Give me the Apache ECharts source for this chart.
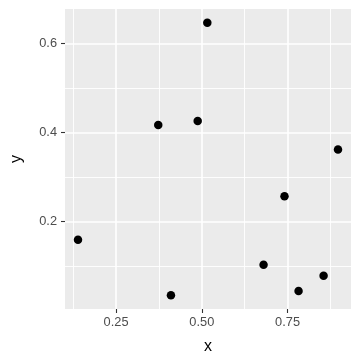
<!DOCTYPE html>
<html><head><meta charset="utf-8">
<script src="https://cdn.jsdelivr.net/npm/echarts@6/dist/echarts.min.js"></script>
<style>html,body{margin:0;padding:0;background:#fff}#c{width:360px;height:360px}</style>
</head><body><div id="c"></div>
<script>
const xValues = [0.139, 0.373, 0.410, 0.488, 0.516, 0.680, 0.741, 0.782, 0.855, 0.897];
const yValues = [0.159, 0.417, 0.034, 0.426, 0.647, 0.103, 0.257, 0.044, 0.078, 0.362];
const xTicks = [0.25, 0.5, 0.75];
const xTickLabels = ['0.25', '0.50', '0.75'];
const xMinor = [0.125, 0.375, 0.625, 0.875];
const yTicks = [0.2, 0.4, 0.6];
const yTickLabels = ['0.2', '0.4', '0.6'];
const yMinor = [0.1, 0.3, 0.5];

function expand(arr) {
  const lo = Math.min(...arr), hi = Math.max(...arr), r = hi - lo;
  return [lo - 0.05 * r, hi + 0.05 * r];
}
const [xmin, xmax] = expand(xValues);
const [ymin, ymax] = expand(yValues);

const FONT = '"Liberation Sans", Arial, sans-serif';
const gridW = { color: '#FFFFFF', width: 1.6 };
const gridMinor = { color: '#FFFFFF', width: 0.9 };

function lbl(ticks, labels) {
  return v => { const i = ticks.findIndex(t => Math.abs(t - v) < 1e-9); return i >= 0 ? labels[i] : ''; };
}

const chart = echarts.init(document.getElementById('c'), null, { renderer: 'canvas' });
chart.setOption({
  animation: false,
  backgroundColor: '#FFFFFF',
  grid: { left: 65, right: 9, top: 9, bottom: 51, show: true, backgroundColor: '#EBEBEB', borderWidth: 0, containLabel: false },
  xAxis: [
    {
      type: 'value', min: xmin, max: xmax, position: 'bottom',
      axisLine: { show: false },
      axisTick: { show: true, customValues: xTicks, length: 4, lineStyle: { color: '#333333', width: 1.1 } },
      axisLabel: { show: true, customValues: xTicks, formatter: lbl(xTicks, xTickLabels), color: '#4D4D4D', fontSize: 12.8, fontFamily: FONT, margin: 7 },
      splitLine: { show: true, lineStyle: gridW },
      name: 'x', nameLocation: 'middle', nameGap: 30,
      nameTextStyle: { color: '#000000', fontSize: 16, fontFamily: FONT },
      z: 2
    },
    {
      type: 'value', min: xmin, max: xmax, position: 'bottom',
      axisLine: { show: false },
      axisTick: { show: false, customValues: xMinor },
      axisLabel: { show: false, customValues: xMinor },
      splitLine: { show: true, lineStyle: gridMinor },
      z: 1
    }
  ],
  yAxis: [
    {
      type: 'value', min: ymin, max: ymax, position: 'left',
      axisLine: { show: false },
      axisTick: { show: true, customValues: yTicks, length: 4, lineStyle: { color: '#333333', width: 1.1 } },
      axisLabel: { show: true, customValues: yTicks, formatter: lbl(yTicks, yTickLabels), color: '#4D4D4D', fontSize: 12.8, fontFamily: FONT, margin: 8 },
      splitLine: { show: true, lineStyle: gridW },
      name: 'y', nameLocation: 'middle', nameGap: 40, nameRotate: 90,
      nameTextStyle: { color: '#000000', fontSize: 16, fontFamily: FONT },
      z: 2
    },
    {
      type: 'value', min: ymin, max: ymax, position: 'left',
      axisLine: { show: false },
      axisTick: { show: false, customValues: yMinor },
      axisLabel: { show: false, customValues: yMinor },
      splitLine: { show: true, lineStyle: gridMinor },
      z: 1
    }
  ],
  series: [{
    type: 'scatter',
    xAxisIndex: 0, yAxisIndex: 0,
    data: xValues.map((x, i) => [x, yValues[i]]),
    symbol: 'circle', symbolSize: 8.5,
    itemStyle: { color: '#000000', opacity: 1 },
    z: 5
  }]
});
</script>
</body></html>
